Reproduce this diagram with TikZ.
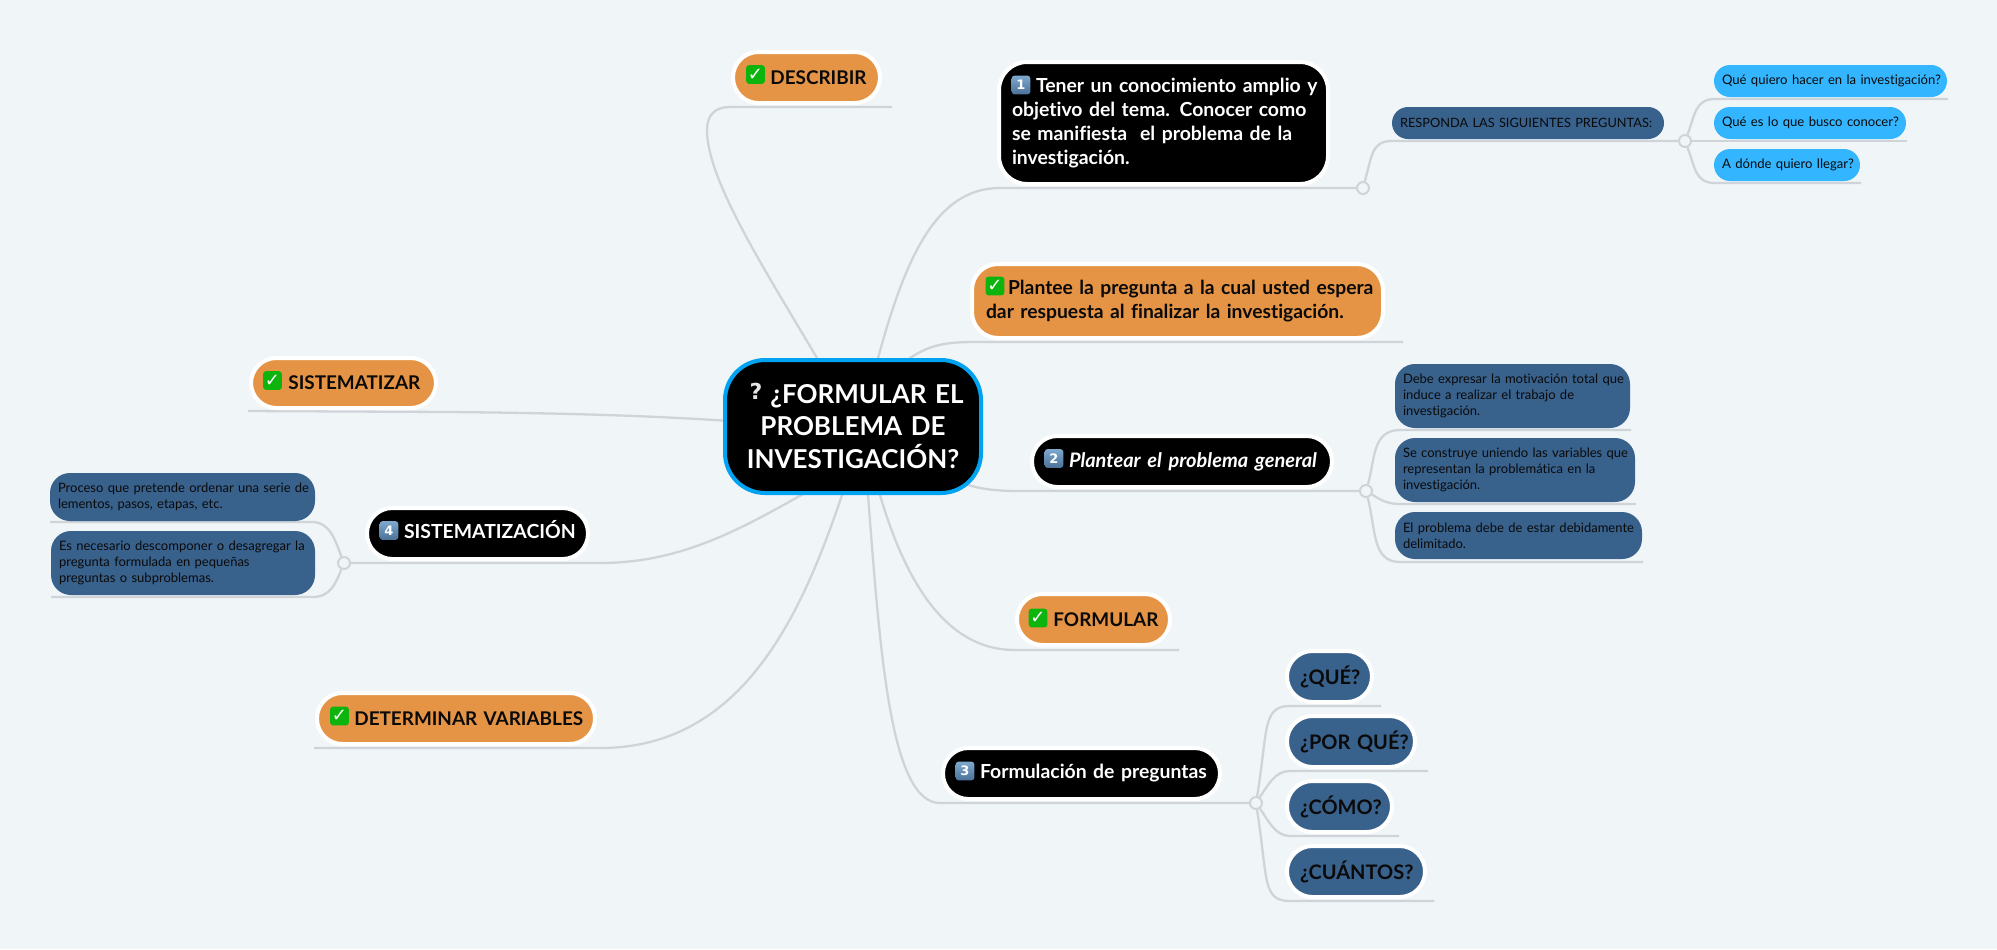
\documentclass[tikz,border=0pt]{standalone}
\usepackage{fontspec}
\setmainfont[WordSpace=0.85,Ligatures=NoCommon]{Lato}
\newfontfamily\djv{DejaVu Sans}
\usetikzlibrary{backgrounds}
\definecolor{bgc}{HTML}{F0F5F8}
\definecolor{orangec}{HTML}{E59445}
\definecolor{navyc}{HTML}{38618C}
\definecolor{skyc}{HTML}{33B5FF}
\definecolor{rootb}{HTML}{00A2F2}
\definecolor{linec}{HTML}{CED4D8}
\definecolor{chkc}{HTML}{0DB40D}
\definecolor{inkc}{HTML}{0A0A0A}
\definecolor{capt}{HTML}{7FA8CE}
\definecolor{capb}{HTML}{4A7299}
\newcommand\fs[2]{\fontsize{#1}{#2}\selectfont}
% white-bordered box: name, style, pad, x0,y0,x1,y1 (fill extents, px), text
\newcommand\wnode[8]{\node[#2,draw=white,line width=2pt,minimum width={(#6-#4+4)*0.5pt},minimum height={(#7-#5+4)*0.5pt},text width={(#6-#4-2*#3)*0.5pt}] (#1) at ({(#4+#6)/2},{(#5+#7)/2}) {#8};}
\newcommand\pnode[8]{\node[#2,minimum width={(#6-#4)*0.5pt},minimum height={(#7-#5)*0.5pt},text width={(#6-#4-2*#3)*0.5pt}] (#1) at ({(#4+#6)/2},{(#5+#7)/2}) {#8};}
\tikzset{
 boxbase/.style={inner sep=0pt,align=left,rectangle},
 orangebig/.style={boxbase,fill=orangec,text=inkc,rounded corners=12.7pt,font=\bfseries\fs{9.45}{12}},
 blackbig/.style={boxbase,fill=black,text=white,rounded corners=12.7pt,font=\bfseries\fs{9.7}{12}},
 navybig/.style={boxbase,fill=navyc,text=inkc,rounded corners=12.7pt,font=\bfseries\fs{10}{12}},
 navysmall/.style={boxbase,fill=navyc,text=inkc,rounded corners=10pt,font=\fs{6.5}{8}},
 skysmall/.style={boxbase,fill=skyc,text=inkc,rounded corners=8pt,font=\fs{6.55}{8}},
 rootbox/.style={inner sep=0pt,align=center,rectangle,fill=black,text=white,draw=rootb,line width=2pt,rounded corners=20pt,font=\bfseries\fs{13}{16.3}},
 conn/.style={draw=linec,line width=1.15pt},
 knob/.style={circle,draw=linec,fill=bgc,line width=1pt,minimum size=6pt,inner sep=0pt},
 chkbox/.style={rectangle,rounded corners=1.5pt,fill=chkc,text=white,minimum size=9.4pt,inner sep=0pt,font=\djv\bfseries\fs{9}{9}},
 capbox/.style={rectangle,rounded corners=1.5pt,top color=capt,bottom color=capb,text=white,minimum size=9.4pt,inner sep=0pt,font=\djv\bfseries\fs{6.5}{6.5}},
 accented/.style={text height=7.2pt,text depth=2.2pt},
}
\begin{document}
\begin{tikzpicture}[x=0.5pt,y=-0.5pt]
\useasboundingbox (0,0) rectangle (1997,949);
\begin{scope}[on background layer]
\fill[bgc] (0,0) rectangle (1997,949);
\end{scope}
% root
\node[rootbox,minimum width=128pt,minimum height=66.5pt,text width=125pt] (root) at (853,426.5) {\hspace*{3pt}\mbox{\hspace*{11pt}¿FORMULAR EL}\\ PROBLEMA DE\\ INVESTIGACIÓN?};
\node[text=white!90!black,inner sep=0pt,font=\djv\bfseries\fs{11}{11}] (qm) at (756,391) {?};
% main topics
\wnode{describir}{orangebig}{11}{735}{54}{878}{101}{\mbox{\hspace*{12.2pt}DESCRIBIR}}
\wnode{tener}{blackbig,rounded corners=14pt}{11}{1001}{64}{1326}{182}{\mbox{\hspace*{12pt}Tener un conocimiento amplio y}\\ \mbox{objetivo del tema. Conocer como}\\ \mbox{se manifiesta\ \ el problema de la}\\ investigación.}
\wnode{plantee}{orangebig,font=\bfseries\fs{9.65}{12},rounded corners=13pt}{12}{974}{266}{1381}{336}{\mbox{\hspace*{11pt}Plantee la pregunta a la cual usted espera}\\ \mbox{dar respuesta al finalizar la investigación.}}
\wnode{plantear}{blackbig,font=\bfseries\itshape\fs{10}{12}}{11}{1034}{438}{1330}{485}{\mbox{\hspace*{12pt}Plantear el problema general}}
\wnode{formular}{orangebig}{10}{1019}{596}{1168}{643}{\mbox{\hspace*{12.2pt}FORMULAR}}
\wnode{formulacion}{blackbig}{11}{945}{750}{1218}{797}{\mbox{\hspace*{12pt}Formulación de preguntas}}
\wnode{sistematizar}{orangebig}{11}{253}{360}{434}{406}{\mbox{\hspace*{12.2pt}SISTEMATIZAR}}
\wnode{sistematizacion}{blackbig,accented}{11}{369}{510}{586}{557}{\mbox{\hspace*{12pt}SISTEMATIZACIÓN}}
\wnode{determinar}{orangebig}{11}{319}{695}{593}{742}{\mbox{\hspace*{12.2pt}DETERMINAR VARIABLES}}
% subtopics
\pnode{responda}{navysmall,font=\fs{6.4}{8},rounded corners=8pt}{8}{1392}{107}{1664}{139}{\mbox{RESPONDA LAS SIGUIENTES PREGUNTAS:}}
\pnode{q1}{skysmall}{8}{1714}{65}{1947}{97}{\mbox{Qué quiero hacer en la investigación?}}
\pnode{q2}{skysmall}{8}{1714}{107}{1906}{139}{\mbox{Qué es lo que busco conocer?}}
\pnode{q3}{skysmall}{8}{1714}{149}{1860}{181}{\mbox{A dónde quiero llegar?}}
\pnode{debe}{navysmall}{8}{1395}{364}{1630}{428}{\mbox{Debe expresar la motivación total que}\\ induce a realizar el trabajo de\\ investigación.}
\pnode{se}{navysmall}{8}{1395}{438}{1635}{502}{\mbox{Se construye uniendo las variables que}\\ representan la problemática en la\\ investigación.}
\pnode{elp}{navysmall}{8}{1395}{512}{1642}{559}{\mbox{El problema debe de estar debidamente}\\ delimitado.}
\pnode{proceso}{navysmall}{8}{50}{473}{315}{521}{\mbox{Proceso que pretende ordenar una serie de}\\ lementos, pasos, etapas, etc.}
\pnode{esnec}{navysmall}{8}{51}{531}{315}{595}{\mbox{Es necesario descomponer o desagregar la}\\ pregunta formulada en pequeñas\\ preguntas o subproblemas.}
\wnode{que}{navybig}{11}{1289}{653}{1370}{700}{\mbox{¿QUÉ?}}
\wnode{porque}{navybig}{11}{1289}{718}{1413}{765}{\mbox{¿POR QUÉ?}}
\wnode{como}{navybig}{11}{1289}{783}{1390}{830}{\mbox{¿CÓMO?}}
\wnode{cuantos}{navybig}{11}{1289}{848}{1423}{895}{\mbox{¿CUÁNTOS?}}
% emoji badges
\node[chkbox] (c1) at (755.5,74.5) {✓};
\node[chkbox] (c2) at (995,286) {✓};
\node[chkbox] (c3) at (339.5,716) {✓};
\node[chkbox] (c4) at (272.5,380.5) {✓};
\node[chkbox] (c5) at (1038,618) {✓};
\node[capbox] (k1) at (1021,85) {1};
\node[capbox] (k2) at (1054,458.5) {2};
\node[capbox] (k3) at (965,771) {3};
\node[capbox] (k4) at (389,530.5) {4};
% knobs
\node[knob] (kt) at (1363,188) {};
\node[knob] (kr) at (1685,141) {};
\node[knob] (kp) at (1366,491) {};
\node[knob] (kf) at (1256,803) {};
\node[knob] (ks) at (344,563) {};
% free ends of the underlines
\coordinate (eDesc) at (892,107);
\coordinate (ePlantee) at (1403,342);
\coordinate (eForm) at (1179,650);
\coordinate (eSis) at (248,411);
\coordinate (eDet) at (314,748);
\coordinate (eQ1) at (1948,99);
\coordinate (eQ2) at (1907,141);
\coordinate (eQ3) at (1861,183);
\coordinate (eDebe) at (1631,430);
\coordinate (eSe) at (1636,504);
\coordinate (eEl) at (1643,562);
\coordinate (eProc) at (50,522);
\coordinate (eEs) at (51,597);
\coordinate (eQue) at (1381,706);
\coordinate (ePor) at (1428,771);
\coordinate (eCom) at (1399,836);
\coordinate (eCua) at (1434,901);
\begin{scope}[on background layer]
\draw[conn] (root.center) -- (817,358) .. controls (765,270) and (707,180) .. (707,130) .. controls (707,115) and (715,107) .. (730,107) -- (eDesc);
\draw[conn] (root.center) -- (878,358) .. controls (905,260) and (935,188) .. (1000,188) -- (kt);
\draw[conn] (kt) .. controls (1372,155) and (1372,141) .. (1392,141) -- (kr);
\draw[conn] (root.center) -- (910,358) .. controls (930,345) and (945,342) .. (975,342) -- (ePlantee);
\draw[conn] (root.center) -- (960,482) .. controls (975,488) and (990,491) .. (1020,491) -- (kp);
\draw[conn] (root.center) -- (880,495) .. controls (905,580) and (945,650) .. (1015,650) -- (eForm);
\draw[conn] (root.center) -- (868,495) .. controls (880,650) and (890,803) .. (940,803) -- (kf);
\draw[conn] (root.center) -- (730,421) .. controls (640,415) and (550,413) .. (450,412) -- (eSis);
\draw[conn] (root.center) -- (810,490) .. controls (740,530) and (680,563) .. (600,563) -- (ks);
\draw[conn] (root.center) -- (842,495) .. controls (800,620) and (740,748) .. (600,748) -- (eDet);
\draw[conn] (kr) .. controls (1695,115) and (1695,99) .. (1715,99) -- (eQ1);
\draw[conn] (kr) -- (eQ2);
\draw[conn] (kr) .. controls (1695,167) and (1695,183) .. (1715,183) -- (eQ3);
\draw[conn] (kp) .. controls (1375,460) and (1372,430) .. (1400,430) -- (eDebe);
\draw[conn] (kp) .. controls (1378,498) and (1385,504) .. (1400,504) -- (eSe);
\draw[conn] (kp) .. controls (1376,530) and (1372,562) .. (1400,562) -- (eEl);
\draw[conn] (kf) .. controls (1268,730) and (1262,706) .. (1290,706) -- (eQue);
\draw[conn] (kf) .. controls (1268,785) and (1275,771) .. (1290,771) -- (ePor);
\draw[conn] (kf) .. controls (1268,820) and (1275,836) .. (1290,836) -- (eCom);
\draw[conn] (kf) .. controls (1268,880) and (1262,901) .. (1290,901) -- (eCua);
\draw[conn] (ks) .. controls (335,540) and (330,522) .. (312,522) -- (eProc);
\draw[conn] (ks) .. controls (335,585) and (330,597) .. (312,597) -- (eEs);
\end{scope}
\end{tikzpicture}
\end{document}
